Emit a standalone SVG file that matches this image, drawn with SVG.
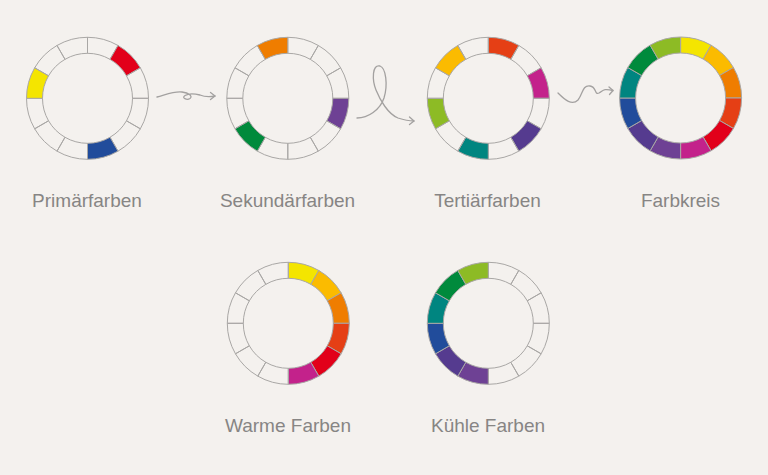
<svg xmlns="http://www.w3.org/2000/svg" xmlns:xlink="http://www.w3.org/1999/xlink" width="768" height="475" viewBox="0 0 768 475">
<style>
.seg{stroke:#a9a7a5;stroke-width:1;}
.lbl{font-family:"Liberation Sans",Arial,sans-serif;font-size:19px;fill:#878584;text-anchor:middle;}
.arr{fill:none;stroke:#a3a1a0;stroke-width:1.3;stroke-linecap:round;stroke-linejoin:round;}
</style>
<defs>
<path id="s0" class="seg" d="M0,-61 A61,61 0 0 1 30.5,-52.83 L22.5,-38.97 A45,45 0 0 0 0,-45 Z"/>
<path id="s1" class="seg" d="M30.5,-52.83 A61,61 0 0 1 52.83,-30.5 L38.97,-22.5 A45,45 0 0 0 22.5,-38.97 Z"/>
<path id="s2" class="seg" d="M52.83,-30.5 A61,61 0 0 1 61,0 L45,0 A45,45 0 0 0 38.97,-22.5 Z"/>
<path id="s3" class="seg" d="M61,0 A61,61 0 0 1 52.83,30.5 L38.97,22.5 A45,45 0 0 0 45,0 Z"/>
<path id="s4" class="seg" d="M52.83,30.5 A61,61 0 0 1 30.5,52.83 L22.5,38.97 A45,45 0 0 0 38.97,22.5 Z"/>
<path id="s5" class="seg" d="M30.5,52.83 A61,61 0 0 1 0,61 L0,45 A45,45 0 0 0 22.5,38.97 Z"/>
<path id="s6" class="seg" d="M0,61 A61,61 0 0 1 -30.5,52.83 L-22.5,38.97 A45,45 0 0 0 0,45 Z"/>
<path id="s7" class="seg" d="M-30.5,52.83 A61,61 0 0 1 -52.83,30.5 L-38.97,22.5 A45,45 0 0 0 -22.5,38.97 Z"/>
<path id="s8" class="seg" d="M-52.83,30.5 A61,61 0 0 1 -61,0 L-45,0 A45,45 0 0 0 -38.97,22.5 Z"/>
<path id="s9" class="seg" d="M-61,0 A61,61 0 0 1 -52.83,-30.5 L-38.97,-22.5 A45,45 0 0 0 -45,0 Z"/>
<path id="s10" class="seg" d="M-52.83,-30.5 A61,61 0 0 1 -30.5,-52.83 L-22.5,-38.97 A45,45 0 0 0 -38.97,-22.5 Z"/>
<path id="s11" class="seg" d="M-30.5,-52.83 A61,61 0 0 1 0,-61 L0,-45 A45,45 0 0 0 -22.5,-38.97 Z"/>
</defs>
<rect width="768" height="475" fill="#f4f1ee"/>

<g id="primaerfarben">
<g transform="translate(87.5,98.3)">
<use href="#s0" fill="none"/><use href="#s1" fill="#e2001a"/><use href="#s2" fill="none"/><use href="#s3" fill="none"/>
<use href="#s4" fill="none"/><use href="#s5" fill="#214c9b"/><use href="#s6" fill="none"/><use href="#s7" fill="none"/>
<use href="#s8" fill="none"/><use href="#s9" fill="#f4e500"/><use href="#s10" fill="none"/><use href="#s11" fill="none"/>
</g>
<text class="lbl" x="87" y="207">Primärfarben</text>
</g>

<g id="sekundaerfarben">
<g transform="translate(287.8,98.3)">
<use href="#s0" fill="none"/><use href="#s1" fill="none"/><use href="#s2" fill="none"/><use href="#s3" fill="#6e4194"/>
<use href="#s4" fill="none"/><use href="#s5" fill="none"/><use href="#s6" fill="none"/><use href="#s7" fill="#008a3c"/>
<use href="#s8" fill="none"/><use href="#s9" fill="none"/><use href="#s10" fill="none"/><use href="#s11" fill="#ef7d00"/>
</g>
<text class="lbl" x="287.5" y="207">Sekundärfarben</text>
</g>

<g id="tertiaerfarben">
<g transform="translate(488.3,98.3)">
<use href="#s0" fill="#e53f15"/><use href="#s1" fill="none"/><use href="#s2" fill="#c3228b"/><use href="#s3" fill="none"/>
<use href="#s4" fill="#553b8f"/><use href="#s5" fill="none"/><use href="#s6" fill="#008580"/><use href="#s7" fill="none"/>
<use href="#s8" fill="#8dbb25"/><use href="#s9" fill="none"/><use href="#s10" fill="#fbbb00"/><use href="#s11" fill="none"/>
</g>
<text class="lbl" x="487.5" y="207">Tertiärfarben</text>
</g>

<g id="farbkreis">
<g transform="translate(680.6,98)">
<use href="#s0" fill="#f4e500"/><use href="#s1" fill="#fbbb00"/><use href="#s2" fill="#ef7d00"/><use href="#s3" fill="#e53f15"/>
<use href="#s4" fill="#e2001a"/><use href="#s5" fill="#c3228b"/><use href="#s6" fill="#6e4194"/><use href="#s7" fill="#553b8f"/>
<use href="#s8" fill="#214c9b"/><use href="#s9" fill="#008580"/><use href="#s10" fill="#008a3c"/><use href="#s11" fill="#8dbb25"/>
</g>
<text class="lbl" x="680.5" y="207">Farbkreis</text>
</g>

<g id="warme-farben">
<g transform="translate(288.3,323.3)">
<use href="#s0" fill="#f4e500"/><use href="#s1" fill="#fbbb00"/><use href="#s2" fill="#ef7d00"/><use href="#s3" fill="#e53f15"/>
<use href="#s4" fill="#e2001a"/><use href="#s5" fill="#c3228b"/><use href="#s6" fill="none"/><use href="#s7" fill="none"/>
<use href="#s8" fill="none"/><use href="#s9" fill="none"/><use href="#s10" fill="none"/><use href="#s11" fill="none"/>
</g>
<text class="lbl" x="288" y="432">Warme Farben</text>
</g>

<g id="kuehle-farben">
<g transform="translate(488.3,323.3)">
<use href="#s0" fill="none"/><use href="#s1" fill="none"/><use href="#s2" fill="none"/><use href="#s3" fill="none"/>
<use href="#s4" fill="none"/><use href="#s5" fill="none"/><use href="#s6" fill="#6e4194"/><use href="#s7" fill="#553b8f"/>
<use href="#s8" fill="#214c9b"/><use href="#s9" fill="#008580"/><use href="#s10" fill="#008a3c"/><use href="#s11" fill="#8dbb25"/>
</g>
<text class="lbl" x="488" y="432">Kühle Farben</text>
</g>

<g id="connectors">
<path class="arr" d="M157,97 C165,95 174,91 182,92 C189,93 193,96 190,98.5 C187,100.5 181,98 185,95.5 C189,93 196,94 200,95 C205,97 209,97 215,96"/>
<path class="arr" d="M210.5,92.5 L215,96 L210.5,99.5"/>
<path class="arr" d="M357,118 C368,118 380,110 384,98 C388,85 386,68 380,66 C372,64 372,80 376,90 C380,100 388,114 398,118 C404,120 409,121 414,121"/>
<path class="arr" d="M409.5,117 L414,121 L409.5,124.5"/>
<path class="arr" d="M558,93 C565,100 572,106 578,100 C583,94 582,85 590,86 C597,87 594,95 599,93 C603,91 603,88 613,90.5"/>
<path class="arr" d="M609,87 L613,90.5 L609.5,94.5"/>
</g>
</svg>
